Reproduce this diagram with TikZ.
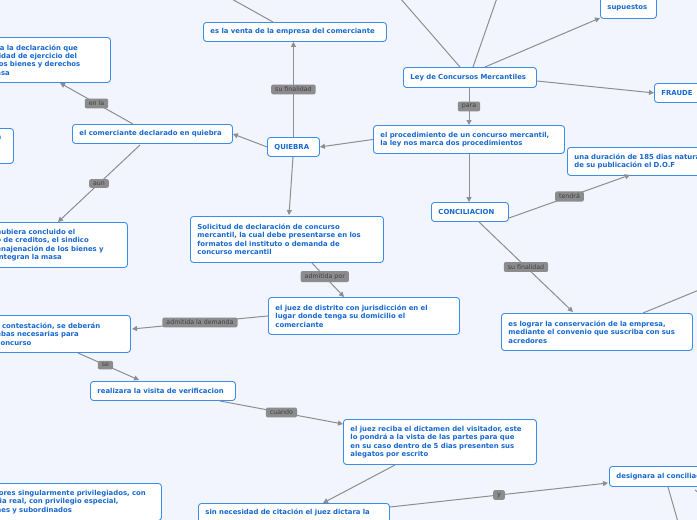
\documentclass[tikz,border=0pt]{standalone}
\usepackage{fontspec}
\setmainfont{DejaVu Sans}
\usetikzlibrary{arrows.meta}
\definecolor{bg}{HTML}{F2F5FE}
\definecolor{bd}{HTML}{3A8EEA}
\definecolor{tx}{HTML}{1668D0}
\definecolor{lb}{HTML}{8C8C8E}
\definecolor{ed}{HTML}{8E8E8E}
\tikzset{
 box/.style={draw=bd, line width=0.9pt, fill=white, rounded corners=3pt, text=tx, font=\fontsize{6.9}{8.4}\selectfont\bfseries, align=left, inner xsep=7pt, inner ysep=3pt, anchor=north west},
 lab/.style={fill=lb, rounded corners=2pt, text=black!75, font=\fontsize{6.3}{7}\selectfont, inner xsep=4pt, inner ysep=2.5pt},
 con/.style={draw=ed, line width=1pt},
 arr/.style={con, -{Triangle[length=5pt,width=5pt]}}
}
\begin{document}
\begin{tikzpicture}[x=1pt,y=-1pt]
\useasboundingbox[fill=bg] (0,0) rectangle (697,520);
% boxes
\node[box, text width=169, minimum height=19] (venta) at (203,22) {es la venta de la empresa del comerciante};
\node[box, text width=119, minimum height=20] (ley) at (403,67) {Ley de Concursos Mercantiles};
\node[box, text width=42, minimum height=22] (sup) at (600,-4) {supuestos};
\node[box, text width=52, minimum height=19] (fraude) at (654,83) {FRAUDE};
\node[box, text width=177, minimum height=28] (proc) at (373,125) {el procedimiento de un concurso mercantil,\\la ley nos marca dos procedimientos};
\node[box, text width=38, minimum height=19] (quiebra) at (267,137) {QUIEBRA};
\node[box, text width=146, minimum height=19] (comer) at (72,124) {el comerciante declarado en quiebra};
\node[box, text width=107, minimum height=45] (tl) at (-11,37) {ra la declaración que\\lidad de ejercicio del\\ los bienes y derechos\\asa};
\node[box, text width=10, minimum height=35] (sl) at (-11,128) {n\\\mbox{}\\\mbox{}};
\node[box, text width=124, minimum height=45] (bl) at (-11,222) {hubiera concluido el\\o de creditos, el sindico\\ enajenación de los bienes y\\integran la masa};
\node[box, text width=179, minimum height=46] (sol) at (190,216) {Solicitud de declaración de concurso\\mercantil, la cual debe presentarse en los\\formatos del instituto o demanda de\\concurso mercantil};
\node[box, text width=177, minimum height=37] (jd) at (268,297) {el juez de distrito con jurisdicción en el\\lugar donde tenga su domicilio el\\comerciante};
\node[box, text width=127, minimum height=37] (cont) at (-11,315) {r contestación, se deberán\\ebas necesarias para\\ concurso};
\node[box, text width=131, minimum height=19] (real) at (90,381) {realizara la visita de verificacion};
\node[box, text width=179, minimum height=45] (jr) at (343,419) {el juez reciba el dictamen del visitador, este\\lo pondrá a la vista de las partes para que\\en su caso dentro de 5 dias presenten sus\\alegatos por escrito};
\node[box, text width=112, minimum height=20] (des) at (609,466) {designara al conciliador};
\node[box, text width=177, minimum height=25] (sin) at (198,503) {sin necesidad de citación el juez dictara la\\\mbox{}};
\node[box, text width=158, minimum height=37] (acr) at (-11,483) {iores singularmente privilegiados, con\\tia real, con privilegio especial,\\nes y subordinados};
\node[box, text width=63, minimum height=19] (conc) at (431,202) {CONCILIACION};
\node[box, text width=162, minimum height=28] (dur) at (567,147) {una duración de 185 dias naturales\\de su publicación el D.O.F};
\node[box, text width=177, minimum height=37] (log) at (501,313) {es lograr la conservación de la empresa,\\mediante el convenio que suscriba con sus\\acredores};
% free ends
\coordinate (f1) at (230,-2); \coordinate (f2) at (400,-2); \coordinate (f3) at (497,-2);
\coordinate (f4) at (678,522); \coordinate (f5) at (699,290); \coordinate (f6) at (699,493);
% edges with labels
\draw[arr] (quiebra.north) -- node[lab]{su finalidad} (venta.south -| quiebra.north);
\draw[con] (273,22) -- (f1);
\draw[con] (460,67) -- (f2);
\draw[con] (473,67) -- (f3);
\draw[arr] (485,67) -- (600,18);
\draw[arr] (537,81) -- (fraude.west);
\draw[arr] (ley.south -| 469,0) -- node[lab]{para} (proc.north -| 469,0);
\draw[arr] (proc.west) -- (quiebra.east);
\draw[arr] (quiebra.west) -- (comer.east);
\draw[arr] (133,124) -- node[lab, pos=0.5]{en la} (60,83);
\draw[arr] (140,145) -- node[lab]{aun} (58,222);
\draw[arr] (293,157) -- (289,215);
\draw[arr] (312,263) -- node[lab, pos=0.4]{admitida por} (344,297);
\draw[arr] (jd.west) -- node[lab]{admitida la demanda} (132,329);
\draw[arr] (78,353) -- node[lab, pos=0.45]{se} (139,380);
\draw[arr] (220,401) -- node[lab]{cuando} (343,424);
\draw[arr] (395,465) -- (323,503);
\draw[arr] (390,507) -- node[lab]{y} (608,483);
\draw[con] (668,487) -- (f4);
\draw[con] (695,490) -- (f6);
\draw[arr] (proc.south -| 469,0) -- (conc.north -| 469,0);
\draw[arr] (509,218) -- node[lab]{tendrá} (630,175);
\draw[arr] (479,222) -- node[lab, pos=0.5]{su finalidad} (573,312);
\draw[con] (643,313) -- (f5);
\end{tikzpicture}
\end{document}
